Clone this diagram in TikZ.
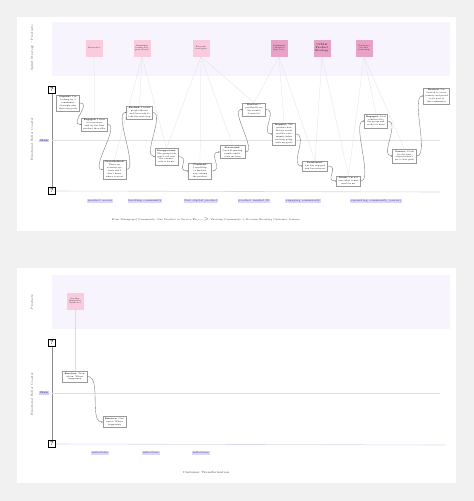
\documentclass[tikz,border=0pt]{standalone}
\usetikzlibrary{calc,arrows.meta}
\definecolor{pagegray}{HTML}{F1F1F1}
\definecolor{bandpurple}{HTML}{F8F4FD}
\definecolor{stickylight}{HTML}{F9CBDD}
\definecolor{stickydark}{HTML}{E9A2C7}
\definecolor{tagpurple}{HTML}{D6CCF7}
\definecolor{tagtext}{HTML}{3F2F9E}
\definecolor{axisline}{HTML}{DCD7EF}
\tikzset{
	sticky/.style={fill=stickylight, minimum width=17pt, minimum height=17pt, inner sep=0.4pt, align=center, text width=15pt, font=\fontsize{1.8}{2.3}\selectfont},
	stickybig/.style={sticky, fill=stickydark, font=\fontsize{2.7}{3.2}\selectfont},
	stagebox/.style={draw=black!40, line width=0.3pt, fill=white, align=center, inner sep=1.5pt, text width=20pt, font=\fontsize{2.1}{2.9}\selectfont},
	qbox/.style={draw, line width=0.55pt, fill=white, minimum size=7pt, inner sep=0pt, font=\fontsize{5.5}{5.5}\selectfont\bfseries},
	tag/.style={fill=tagpurple, text=tagtext, inner sep=0.9pt, font=\fontsize{2.6}{3}\selectfont\bfseries},
	milestone/.style={fill=tagpurple!80, text=tagtext, inner sep=0.6pt, font=\fontsize{2.8}{3.2}\selectfont},
	fan/.style={draw=black!13, line width=0.25pt},
	journey/.style={draw=black!55, line width=0.35pt, -{Stealth[length=1.6pt,width=1.4pt]}},
	sidelabel/.style={rotate=90, text=black!75, font=\fontsize{2.8}{3.2}\selectfont},
	caption/.style={text=black!80, font=\fontsize{2.45}{3}\selectfont},
}

\begin{document}
\begin{tikzpicture}[x=1pt, y=-1pt]
			%%%%% START %%%%%
			
			\fill[pagegray] (0, 0) rectangle (474, 501);
			\useasboundingbox (0, 0) rectangle (474, 501);
			
			%%%%% TOP CARD %%%%%
			\fill[white] (17, 17) rectangle (456, 231);
			\fill[bandpurple] (52, 22) rectangle (450, 76);
			
			\node[sidelabel] (lbltop) at (32, 48) {Sprint Strategy $\cdot$ Products};
			\node[sidelabel] (lblemo) at (32, 139) {Emotional Roller Coaster};
			
			\node[sticky] (st1) at (94, 48) {Researcher};
			\node[sticky] (st2) at (142, 48) {Community Journey Program (Draft)};
			\node[sticky] (st3) at (201, 48) {Research-based plan};
			\node[sticky, fill=stickydark] (st4) at (279, 48) {Community + Membership Tools};
			\node[stickybig] (st5) at (322, 48) {CJM \& Product Strategy};
			\node[sticky, fill=stickydark] (st6) at (364, 48) {Positioned Product Leadership};
			
			% axis
			\node[qbox] (qtop) at (52, 90) {?};
			\node[qbox] (qbot) at (52, 191) {?};
			\draw[black!45, line width=0.4pt] (qtop) -- (qbot);
			\coordinate (midend) at (440, 140.5);
			\coordinate (botend) at (440, 192);
			\draw[black!12, line width=0.4pt] (52, 140.5) -- (midend);
			\draw[axisline, line width=0.6pt] (qbot) -- (botend);
			\node[tag] (meh) at (44, 140.5) {Meh};
			
			% emotions
			\node[stagebox] (e1) at (68, 103) {\textbf{Hopeful:} I'm looking for a community of people who share my goals};
			\node[stagebox, text width=23pt] (e2) at (94.5, 124.5) {\textbf{Engaged:} I want to learn more and try the first product they offer};
			\node[stagebox] (e3) at (114.5, 169.5) {\textbf{Overwhelmed:} There are so many options and I don't know where to start};
			\node[stagebox, text width=23pt] (e4) at (139.5, 112.5) {\textbf{Excited:} I found people like me and I'm ready to take the next step};
			\node[stagebox] (e5) at (166.5, 156.5) {\textbf{Disappointed:} The group feels quiet, not sure the community is for me};
			\node[stagebox] (e6) at (200, 171) {\textbf{Confused:} I need help to find my way around the product};
			\node[stagebox, text width=22pt] (e7) at (232.5, 152) {\textbf{Frustrated:} I'm still missing results and it costs me time};
			\node[stagebox] (e8) at (254, 109.5) {\textbf{Excited:} I can finally see the results I came for};
			\node[stagebox] (e9) at (284, 134) {\textbf{Hopeful:} The product now fits my needs and the community helps me keep going with my goals};
			\node[stagebox, text width=22pt] (e10) at (315, 166) {\textbf{Frustrated:} I'm less engaged and lose interest};
			\node[stagebox, text width=21pt] (e11) at (348.5, 181) {\textbf{Stuck:} I'm not sure what comes next for me};
			\node[stagebox] (e12) at (376, 121) {\textbf{Engaged:} I feel connected to the group and ready for more};
			\node[stagebox, text width=21pt] (e13) at (404.5, 156) {\textbf{Unsure:} I look for the next step but don't see a clear path};
			\node[stagebox, text width=23pt] (e14) at (436.5, 96) {\textbf{Excited:} I'm invited to a new journey and proud to be part of this community};
			
			% fan lines from the strategy notes
			\draw[fan] (st1.south) -- (e2.north);
			\draw[fan] (st2.south) -- (e3.north);
			\draw[fan] (st2.south) -- (e4.north);
			\draw[fan] (st2.south) -- (e5.north);
			\draw[fan] (st3.south) -- (e5.north);
			\draw[fan] (st3.south) -- (e6.north);
			\draw[fan] (st3.south) -- (e7.north);
			\draw[fan] (st3.south) -- (e8.north);
			\draw[fan] (st4.south) -- (e8.north);
			\draw[fan] (st4.south) -- (e9.north);
			\draw[fan] (st4.south) -- (e10.north);
			\draw[fan] (st5.south) -- (e10.north);
			\draw[fan] (st5.south) -- (e11.north);
			\draw[fan] (st6.south) -- (e11.north);
			\draw[fan] (st6.south) -- (e12.north);
			\draw[fan] (st6.south) -- (e13.north);
			
			\foreach \a/\b in {e1/e2, e2/e3, e3/e4, e4/e5, e5/e6, e6/e7, e7/e8, e8/e9, e9/e10, e10/e11, e11/e12, e12/e13, e13/e14}
				\draw[journey] (\a.east) .. controls +(13, 0) and +(-13, 0) .. (\b.west);
			
			\node[milestone] (m1) at (100, 201) {product access};
			\node[milestone] (m2) at (145, 201) {building community};
			\node[milestone] (m3) at (201, 201) {first digital product};
			\node[milestone] (m4) at (254, 201) {product market fit};
			\node[milestone] (m5) at (303, 201) {engaging community};
			\node[milestone] (m6) at (376, 201) {expanding community journey};
			
			\node[caption] (captop) at (206, 219) {From Disengaged Community, One Product or Service \textbf{To} -{}-{}-{}-{}-$>$ Thriving Community + Revenue Boosting Customer Journey};
			
			%%%%% BOTTOM CARD %%%%%
			\fill[white] (17, 268) rectangle (456, 483);
			\fill[bandpurple] (52, 275) rectangle (450, 329);
			
			\node[sidelabel] (lblprod) at (32, 302) {Products};
			\node[sidelabel] (lblemob) at (32, 394) {Emotional Roller Coaster};
			
			\node[sticky] (pm1) at (75, 301) {Product Market Fit Dashboard};
			
			\node[qbox] (qtopb) at (52, 343) {?};
			\node[qbox] (qbotb) at (52, 444) {?};
			\draw[black!45, line width=0.4pt] (qtopb) -- (qbotb);
			\coordinate (midendb) at (440, 393);
			\coordinate (botendb) at (445, 445);
			\draw[black!12, line width=0.4pt] (52, 393) -- (midendb);
			\draw[axisline, line width=0.6pt] (qbotb) -- (botendb);
			\node[tag] (mehb) at (44, 393) {Meh};
			
			\node[stagebox, text width=22pt] (b1) at (75, 376.5) {\textbf{Emotion:} Transition: Where happening};
			\node[stagebox] (b2) at (114.5, 422) {\textbf{Emotion:} Customer: Where happening};
			
			\draw[fan] (pm1.south) -- (b1.north);
			\draw[journey] (b1.east) .. controls +(14, 0) and +(-14, 0) .. (b2.west);
			
			\node[milestone] (n1) at (100, 453) {milestone};
			\node[milestone] (n2) at (151, 453) {milestone};
			\node[milestone] (n3) at (201, 453) {milestone};
			
			\node[caption, font=\fontsize{3}{3.5}\selectfont] (capbot) at (206, 472) {Customer Transformation};
			
			%%%%% END %%%%%
\end{tikzpicture}
\end{document}
